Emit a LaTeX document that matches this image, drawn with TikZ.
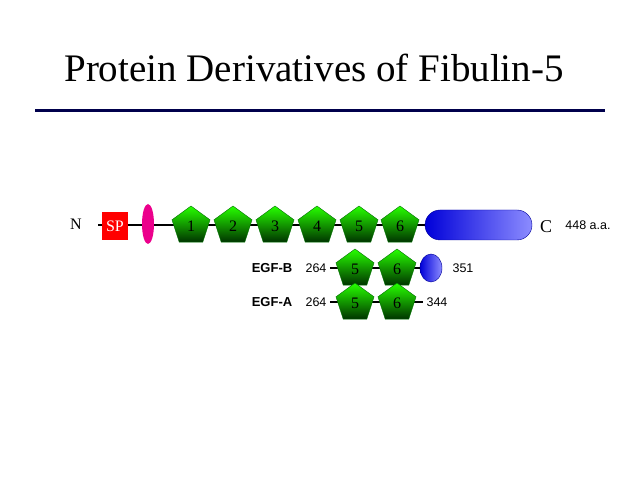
\documentclass[tikz,border=0pt]{standalone}
\usepackage{fontspec}
\setmainfont{Liberation Serif}
\newfontfamily\sansf{Liberation Sans}
\usetikzlibrary{shapes.geometric}
\begin{document}
\begin{tikzpicture}[x=1pt,y=-1pt,
  penta/.style={regular polygon,regular polygon sides=5,minimum size=40pt,inner sep=0pt,
    draw=green!45!black,line width=0.4pt,top color=green!80!lime,bottom color=green!20!black,
    font=\fontsize{16}{16}\selectfont,text=black},
  lbl/.style={font=\sansf\fontsize{12.5}{14}\selectfont},
  bl/.style={font=\sansf\bfseries\fontsize{13}{14}\selectfont},
  bb/.style={draw=blue!60!black,left color=blue!85!black,right color=blue!45!white}]
\useasboundingbox (0,0) rectangle (638,478);
\node at (314,68) {\fontsize{39}{44}\selectfont Protein Derivatives of Fibulin-5};
\fill[blue!30!black] (35,109.5) rectangle (605,112.5);
% main row
\node (N) at (76,224) {\fontsize{16}{16}\selectfont N};
\node (C) at (546,227) {\fontsize{18}{18}\selectfont C};
\node[lbl] (len) at (588,225) {448 a.a.};
\coordinate (s) at (98,225);
\coordinate (e) at (430,225);
\draw[line width=1.2pt] (s) -- (e);
\node[fill=red,minimum width=26pt,minimum height=28pt,inner sep=0pt,text=white,font=\fontsize{16}{16}\selectfont] (sp) at (115,226) {SP};
\node[ellipse,fill=magenta,minimum width=12pt,minimum height=40pt,inner sep=0pt] (el) at (148,224) {};
\foreach \i/\x in {1/191,2/233,3/275,4/317,5/359,6/400}
  \node[penta] (p\i) at (\x,226) {\i};
\node[bb,rounded corners=15pt,minimum width=107pt,minimum height=30pt,inner sep=0pt] (cap) at (478.5,225) {};
% EGF-B
\node[bl] (b) at (272,268) {EGF-B};
\node[lbl] (b1) at (316,268) {264};
\node[ellipse,bb,minimum width=22pt,minimum height=28pt,inner sep=0pt] (be) at (431,268) {};
\draw[line width=1.2pt] (b1.east) -- (be.west);
\node[penta] (b5) at (355,269) {5};
\node[penta] (b6) at (397,269) {6};
\node[lbl] (b2) at (463,268) {351};
% EGF-A
\node[bl] (a) at (272,302) {EGF-A};
\node[lbl] (a1) at (316,302) {264};
\node[lbl] (a2) at (437,302) {344};
\draw[line width=1.2pt] (a1.east) -- (a2.west);
\node[penta] (a5) at (355,303) {5};
\node[penta] (a6) at (397,303) {6};
\end{tikzpicture}
\end{document}
